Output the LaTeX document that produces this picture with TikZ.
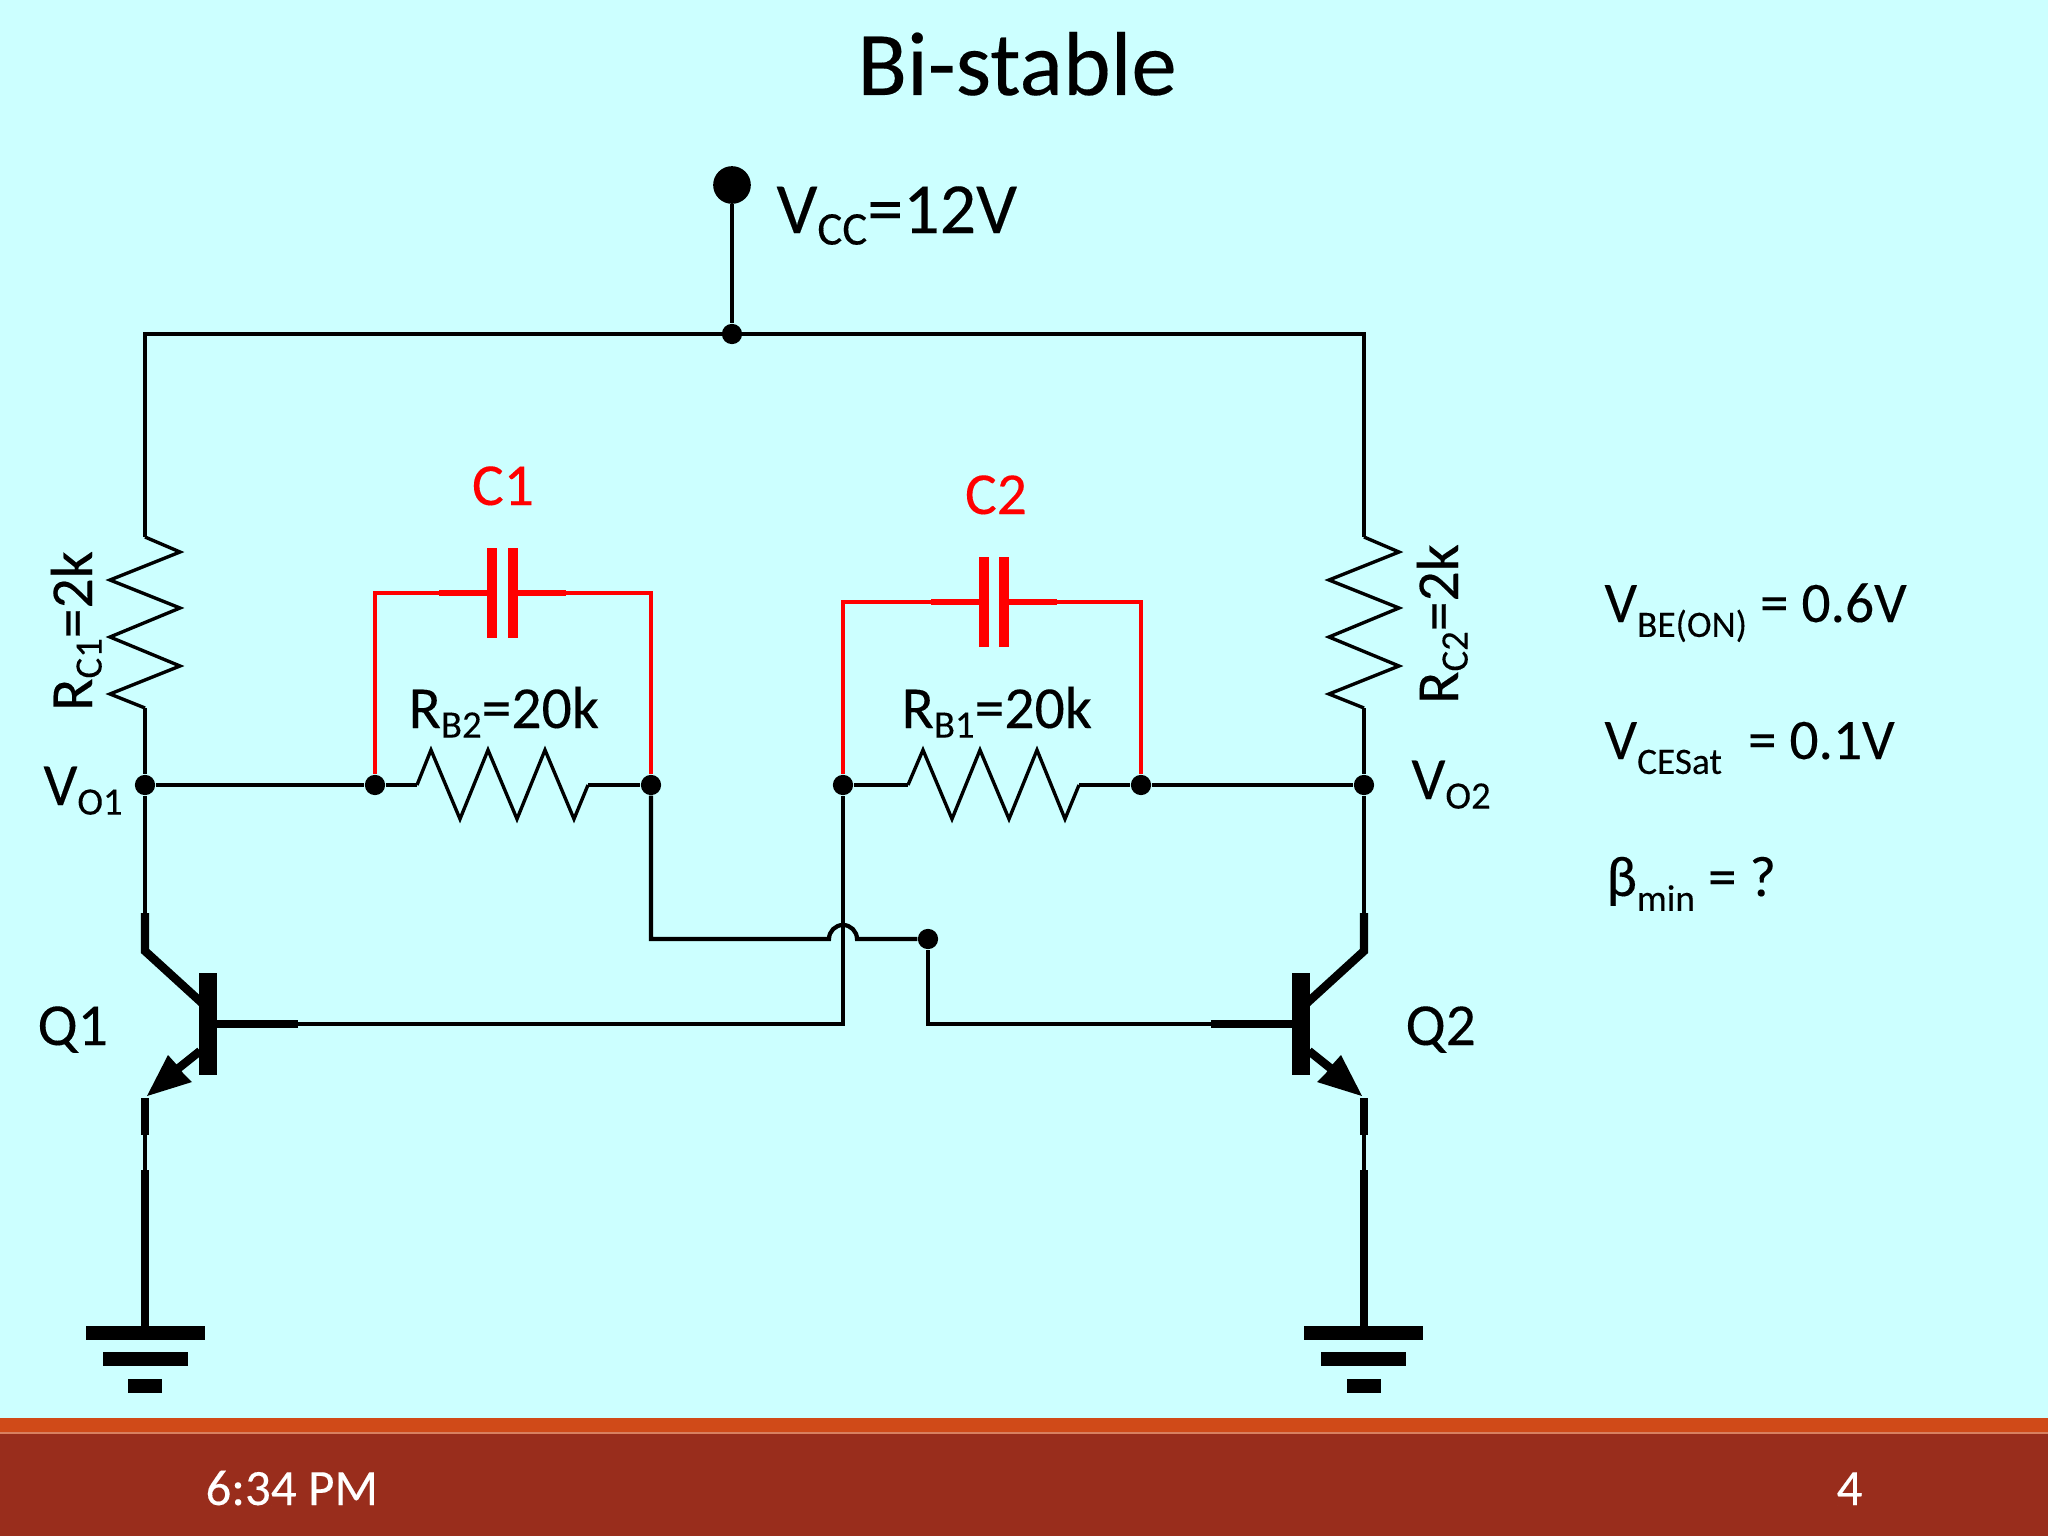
\documentclass[tikz,border=0pt]{standalone}
\usepackage{fontspec}
\setmainfont{Carlito}[FakeBold=.2]
\usepackage{tikz}
\definecolor{slidebg}{HTML}{CCFFFF}
\definecolor{barorange}{HTML}{D04A18}
\definecolor{barred}{HTML}{992D1C}
\definecolor{barline}{HTML}{D98060}
\newcommand{\lowtxt}[2][.16]{\raisebox{-#1em}{\scalebox{.65}{#2}}}
\tikzset{
  lbl/.style={anchor=base west,inner sep=0pt,font=\fontsize{21.2}{25}\selectfont},
  biglbl/.style={lbl,font=\fontsize{25.6}{30}\selectfont},
  sidelbl/.style={lbl,font=\fontsize{20.4}{24}\selectfont},
  wire/.style={draw=black,line width=1.5pt,line join=miter},
  heavy/.style={draw=black,line width=3pt,line join=miter},
  zigzag/.style={draw=black,line width=1.2pt,line join=miter},
  redwire/.style={draw=red,line width=1.5pt,line join=miter},
  redheavy/.style={draw=red,line width=2.1pt},
  dot/.style={circle,fill=black,inner sep=0pt,minimum size=7.2pt}
}
\begin{document}
\begin{tikzpicture}[x=0.0125cm,y=-0.0125cm]
\useasboundingbox (0,0) rectangle (2048,1536);
\fill[slidebg] (0,0) rectangle (2048,1418);
\fill[barorange] (0,1418) rectangle (2048,1433);
\fill[barred] (0,1433) rectangle (2048,1536);
\draw[barline,line width=.4pt] (0,1433) -- (2048,1433);

\node[anchor=base west,inner sep=0pt,font=\fontsize{32.3}{37}\selectfont] (title) at (857,95) {Bi-stable};
\begin{scope}[every node/.style={dot}]
    \node[minimum size=13.4pt] (vcc) at (732,185) {};
    \node (top) at (732,334) {};
    \node (vo1) at (145,785) {};
    \node (rb2l) at (375,785) {};
    \node (rb2r) at (651,785) {};
    \node (rb1l) at (843,785) {};
    \node (rb1r) at (1141,785) {};
    \node (vo2) at (1364,785) {};
    \node (cross) at (928,939) {};
\end{scope}
\node[biglbl] (vcctxt) at (776,233) {V\lowtxt{CC}=12V};

\coordinate (railL) at (145,334);
\coordinate (railR) at (1364,334);
\draw[wire] (vcc) -- (top);

% collector resistors
\foreach \n/\x in {1/145,2/1364} {
    \coordinate (rcT\n) at (\x,537);
    \coordinate (rcB\n) at (\x,708);
    \draw[zigzag] (rcT\n) -- ++(35,15) -- ++(-70,28) -- ++(70,28) -- ++(-70,29)
        -- ++(70,29) -- ++(-70,28) -- (rcB\n);
}
\draw[wire] (rcT1) -- (railL) -- (railR) -- (rcT2);
\draw[wire] (rcB1) -- (vo1);
\draw[wire] (rcB2) -- (vo2);
\node[lbl,anchor=base,rotate=90] (rc1) at (92,631) {R\lowtxt{C1}=2k};
\node[lbl,anchor=base,rotate=90] (rc2) at (1458,624) {R\lowtxt{C2}=2k};
\node[lbl] (vo1txt) at (43,805) {V\lowtxt{O1}};
\node[lbl] (vo2txt) at (1411,799) {V\lowtxt{O2}};

% base resistors
\coordinate (rb2a) at (417,785);
\coordinate (rb2b) at (588,785);
\coordinate (rb1a) at (908,785);
\coordinate (rb1b) at (1079,785);
\draw[wire] (vo1) -- (rb2l) -- (rb2a);
\draw[zigzag] (rb2a) -- ++(14,-35) -- ++(29,69) -- ++(28,-69) -- ++(29,69)
    -- ++(28,-69) -- ++(29,69) -- (rb2b);
\draw[wire] (rb2b) -- (rb2r);
\draw[wire] (rb1l) -- (rb1a);
\draw[zigzag] (rb1a) -- ++(15,-35) -- ++(29,69) -- ++(28,-69) -- ++(29,69)
    -- ++(28,-69) -- ++(28,69) -- (rb1b);
\draw[wire] (rb1b) -- (rb1r) -- (vo2);
\node[lbl] (rb2txt) at (408,728) {R\lowtxt{B2}=20k};
\node[lbl] (rb1txt) at (901,728) {R\lowtxt{B1}=20k};

% capacitors
\foreach \n/\l/\r/\a/\b/\y in {1/rb2l/rb2r/492/513/593,2/rb1l/rb1r/983.5/1004/602} {
    \coordinate (capL\n) at (\a,\y);
    \coordinate (capR\n) at (\b,\y);
    \draw[redwire] (\l) |- (capL\n);
    \draw[redwire] (\r) |- (capR\n);
    \draw[redheavy] (capL\n) -- ++(-53,0);
    \draw[redheavy] (capR\n) -- ++(53,0);
    \fill[red] (\a-5,\y-45) rectangle (\a+5,\y+45);
    \fill[red] (\b-5,\y-45) rectangle (\b+5,\y+45);
}
\node[lbl,text=red,anchor=base] (c1txt) at (503,505) {C1};
\node[lbl,text=red,anchor=base] (c2txt) at (996,514) {C2};

% transistors and grounds
\foreach \n/\ox/\sx in {1/0/1,2/1509/-1} {
\begin{scope}[shift={(\ox,0)},xscale=\sx]
    \coordinate (col\n) at (145,913);
    \coordinate (base\n) at (217,1024);
    \coordinate (baseE\n) at (298,1024);
    \coordinate (emi\n) at (145,1098);
    \coordinate (gnd\n) at (145,1326);
    \draw[heavy] (col\n) -- (145,951) -- (202,1003);
    \fill (199,973) rectangle (217,1075);
    \draw[heavy] (200,1051) -- (175,1071);
    \fill (147,1096) -- (168,1055) -- (177,1065) -- (183,1073) -- (192,1082) -- cycle;
    \draw[heavy] (base\n) -- (baseE\n);
    \draw[heavy] (emi\n) -- (145,1135);
    \draw[wire] (145,1135) -- (145,1170);
    \draw[heavy] (145,1170) -- (gnd\n);
    \fill (86,1326) rectangle (205,1340);
    \fill (103,1352) rectangle (188,1366);
    \fill (128,1379) rectangle (162,1393);
\end{scope}
}
\draw[wire] (vo1) -- (col1);
\draw[wire] (vo2) -- (col2);
\node[lbl] (q1) at (37,1045) {Q1};
\node[lbl] (q2) at (1405,1045) {Q2};

% cross coupling
\coordinate (bendA) at (843,1024);
\coordinate (bendB) at (928,1024);
\coordinate (bendC) at (651,939);
\draw[wire] (baseE1) -- (bendA) -- (rb1l);
\draw[wire] (baseE2) -- (bendB) -- (cross);
\draw[wire] (rb2r) -- (bendC) -- (829,939) arc[start angle=180,end angle=360,radius=14] -- (cross);

\begin{scope}[every node/.style={sidelbl}]
    \node (vbe) at (1604,622) {V\lowtxt[.26]{BE(ON)} = 0.6V};
    \node (vce) at (1604,759) {V\lowtxt[.26]{CESat} \ = 0.1V};
    \node (bmin) at (1606,896) {β\lowtxt[.26]{min} = ?};
\end{scope}

\begin{scope}[every node/.style={anchor=base west,inner sep=0pt,text=white,font=\fontsize{18.1}{22}\selectfont}]
    \node (clock) at (205,1505) {6:34 PM};
    \node (page) at (1836,1505) {4};
\end{scope}
\end{tikzpicture}
\end{document}
